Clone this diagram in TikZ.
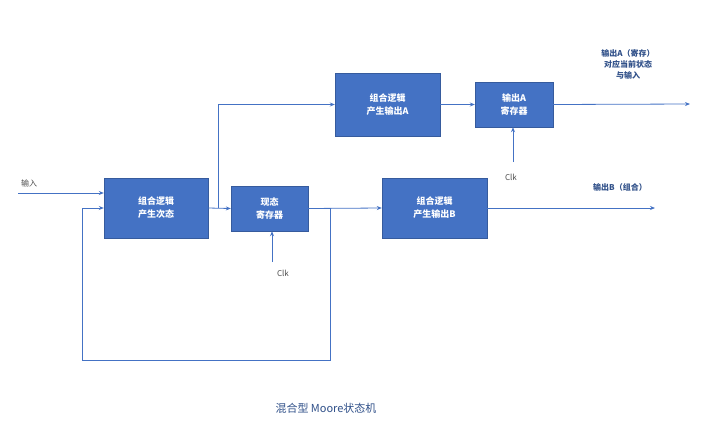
\documentclass[tikz,border=0pt]{standalone}
\usepackage{fontspec}
\setmainfont{Noto Sans CJK SC}
\usetikzlibrary{arrows.meta}
\definecolor{bx}{HTML}{4472C4}
\begin{document}
\begin{tikzpicture}[x=1pt,y=-1pt,
 box/.style={draw=bx!80!black,fill=bx,text=white,font=\bfseries\fontsize{9}{13}\selectfont,align=center,inner sep=0pt},
 ln/.style={draw=bx,line width=0.8pt},
 ar/.style={ln,-{Stealth[length=5pt,width=4pt]}},
 lb/.style={font=\bfseries\fontsize{8}{11}\selectfont,text=bx!70!black,align=center}]
\useasboundingbox (0,0) rectangle (726,440);
\node[box,minimum width=104pt,minimum height=60pt] (c1) at (156,208) {组合逻辑\\产生次态};
\node[box,minimum width=77pt,minimum height=45pt] (r1) at (269.5,208.5) {现态\\寄存器};
\node[box,minimum width=105pt,minimum height=63pt] (cA) at (387.5,104.5) {组合逻辑\\产生输出A};
\node[box,minimum width=78pt,minimum height=45pt] (rA) at (514,104.5) {输出A\\寄存器};
\node[box,minimum width=105pt,minimum height=60pt] (cB) at (434.5,208) {组合逻辑\\产生输出B};
\node[lb,font=\fontsize{8}{10}\selectfont,text=black!70] (in) at (29,183) {输入};
\coordinate (ins) at (18,193);
\draw[ar] (ins) -- (ins -| c1.west);
\draw[ar] (c1.east) -- (r1.west);
\coordinate (sp) at (218,208);
\draw[ar] (sp) |- (cA.west);
\draw[ar] (r1.east) -- (cB.west);
\coordinate (fb) at (330,208);
\draw[ar] (fb) -- (330,360) -- (82,360) -- (82,208) -- (c1.west |- 0,208);
\draw[ar] (cA.east) -- (rA.west);
\coordinate (oA) at (690,104);
\draw[ar] (rA.east) -- (oA);
\coordinate (oB) at (655,208);
\draw[ar] (cB.east) -- (oB);
\coordinate (k1) at (272,262);
\draw[ar] (k1) -- (r1.south -| k1);
\coordinate (k2) at (513,162);
\draw[ar] (k2) -- (rA.south -| k2);
\node[font=\fontsize{8}{10}\selectfont,text=black!70] (lk1) at (283,273) {Clk};
\node[font=\fontsize{8}{10}\selectfont,text=black!70] (lk2) at (511,177) {Clk};
\node[lb] (lA) at (628,64) {输出A（寄存）\\对应当前状态\\与输入};
\node[lb] (lB) at (620,187) {输出B（组合）};
\node[font=\fontsize{11}{13}\selectfont,text=bx!70!black] (t) at (326,408) {混合型 Moore状态机};
\end{tikzpicture}
\end{document}
